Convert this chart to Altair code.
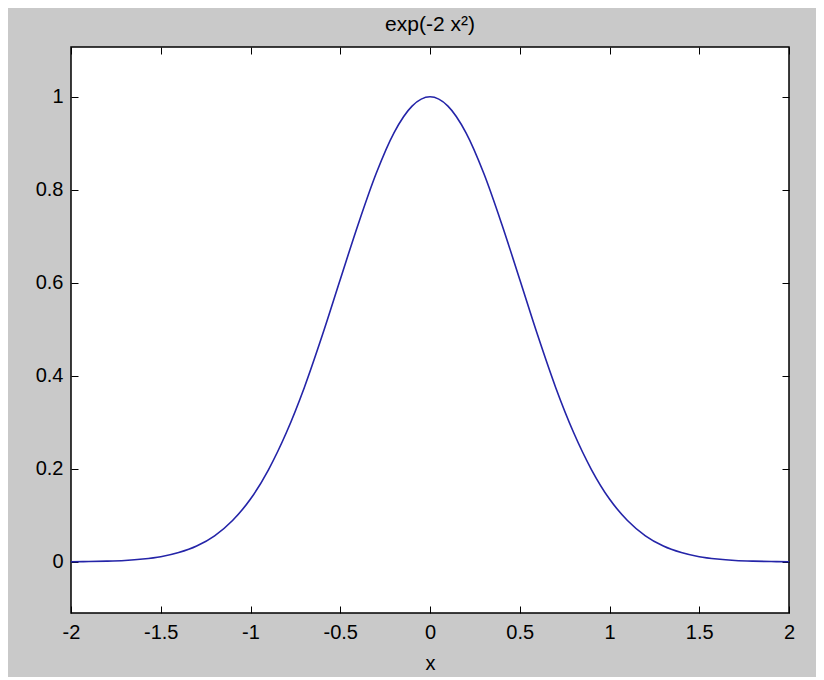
import altair as alt
import pandas as pd

x_vals = [-2.0, -1.9, -1.8, -1.7, -1.6, -1.5, -1.4, -1.3, -1.2, -1.1, -1.0,
          -0.9, -0.8, -0.7, -0.6, -0.5, -0.4, -0.3, -0.2, -0.1, 0.0,
          0.1, 0.2, 0.3, 0.4, 0.5, 0.6, 0.7, 0.8, 0.9, 1.0,
          1.1, 1.2, 1.3, 1.4, 1.5, 1.6, 1.7, 1.8, 1.9, 2.0]
y_vals = [0.0003, 0.0007, 0.0015, 0.003, 0.006, 0.011, 0.020, 0.034, 0.056, 0.089, 0.135,
          0.198, 0.278, 0.375, 0.487, 0.607, 0.726, 0.835, 0.923, 0.980, 1.0,
          0.980, 0.923, 0.835, 0.726, 0.607, 0.487, 0.375, 0.278, 0.198, 0.135,
          0.089, 0.056, 0.034, 0.020, 0.011, 0.006, 0.003, 0.0015, 0.0007, 0.0003]
x_ticks = [-2, -1.5, -1, -0.5, 0, 0.5, 1, 1.5, 2]
y_ticks = [0, 0.2, 0.4, 0.6, 0.8, 1]
title_text = "exp(-2 x²)"
x_title = "x"

df = pd.DataFrame({"x": x_vals, "y": y_vals})

W, H = 718, 566
FONT = "Liberation Sans"
FS = 20
lab = "replace(format(datum.value,'~g'),'\u2212','-')"

xs = alt.Scale(domain=[-2, 2], nice=False, zero=False)
ys = alt.Scale(domain=[-0.11, 1.107], nice=False, zero=False)

base = alt.Chart(df)

main = base.mark_line(color="#2424a8", strokeWidth=1.6, interpolate="monotone").encode(
    x=alt.X("x:Q", scale=xs, title=x_title,
            axis=alt.Axis(values=x_ticks, labelExpr=lab, tickSize=0, domain=False,
                          grid=False, labelPadding=9, labelFontSize=FS, labelFont=FONT,
                          labelColor="black", labelFlush=False, labelOverlap=False,
                          titleFontSize=FS, titleFont=FONT,
                          titleFontWeight="normal", titleColor="black", titlePadding=11)),
    y=alt.Y("y:Q", scale=ys, title=None,
            axis=alt.Axis(values=y_ticks, labelExpr=lab, tickSize=0, domain=False,
                          grid=False, labelPadding=8, labelFontSize=FS, labelFont=FONT,
                          labelColor="black", labelFlush=False)),
)

ticks1 = base.mark_line(opacity=0).encode(
    x=alt.X("x:Q", scale=xs, title=None,
            axis=alt.Axis(orient="top", offset=-H, values=x_ticks, labels=False,
                          tickSize=7, tickColor="black", domain=False, grid=False)),
    y=alt.Y("y:Q", scale=ys, title=None,
            axis=alt.Axis(orient="right", offset=-W, values=y_ticks, labels=False,
                          tickSize=7, tickColor="black", domain=False, grid=False)),
)

ticks2 = base.mark_line(opacity=0).encode(
    x=alt.X("x:Q", scale=xs, title=None,
            axis=alt.Axis(orient="bottom", offset=-H, values=x_ticks, labels=False,
                          tickSize=7, tickColor="black", domain=False, grid=False)),
    y=alt.Y("y:Q", scale=ys, title=None,
            axis=alt.Axis(orient="left", offset=-W, values=y_ticks, labels=False,
                          tickSize=7, tickColor="black", domain=False, grid=False)),
)

chart = alt.layer(main, ticks1, ticks2).resolve_axis(x="independent", y="independent").properties(
    width=W, height=H,
    title=alt.TitleParams(title_text, fontSize=21, font=FONT, fontWeight="normal",
                          color="black", offset=12),
    background="#c9c9c9",
    padding={"left": 63, "top": 39, "right": 27, "bottom": 64},
    autosize=alt.AutoSizeParams(type="none"),
).configure_view(
    fill="white", stroke="black", strokeWidth=1.5
)

chart.save("out.html", embed_options={"renderer": "svg", "actions": False})
